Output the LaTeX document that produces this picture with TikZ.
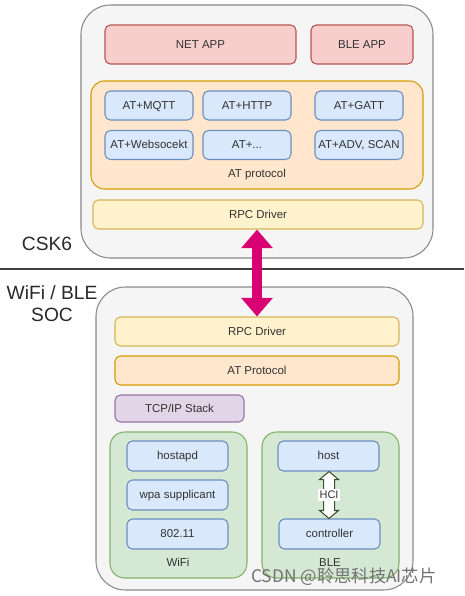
\documentclass[tikz,border=0pt]{standalone}
\usepackage{fontspec}
\setmainfont{Liberation Sans}
\newfontfamily\cjk{Noto Sans CJK SC}
\usetikzlibrary{arrows.meta,calc}
\definecolor{txt}{HTML}{333333}
\definecolor{outerfill}{HTML}{F5F5F5}
\definecolor{outerline}{HTML}{8A8A8A}
\definecolor{redfill}{HTML}{F8CECC}
\definecolor{redline}{HTML}{B85450}
\definecolor{bluefill}{HTML}{DAE8FC}
\definecolor{blueline}{HTML}{6C8EBF}
\definecolor{orfill}{HTML}{FFE6CC}
\definecolor{orline}{HTML}{D79B00}
\definecolor{yelfill}{HTML}{FFF2CC}
\definecolor{yelline}{HTML}{D6B656}
\definecolor{purfill}{HTML}{E1D5E7}
\definecolor{purline}{HTML}{9673A6}
\definecolor{grnfill}{HTML}{D5E8D4}
\definecolor{grnline}{HTML}{82B366}
\definecolor{magenta}{HTML}{D80073}
\tikzset{
  sz/.style 2 args={minimum width=#1*0.75pt, minimum height=#2*0.75pt, inner sep=0pt},
  base/.style={draw, line width=0.8pt, text=txt, font=\fontsize{8.6}{10}\selectfont,
    text height=6.3pt, text depth=0.6pt},
  outerbox/.style={base, fill=outerfill, draw=outerline, rounded corners=22pt},
  redbox/.style={base, fill=redfill, draw=redline, rounded corners=4pt},
  bluebox/.style={base, fill=bluefill, draw=blueline, rounded corners=4pt},
  orbox/.style={base, fill=orfill, draw=orline, rounded corners=4pt},
  orgroup/.style={base, fill=orfill, draw=orline, rounded corners=10pt},
  yelbox/.style={base, fill=yelfill, draw=yelline, rounded corners=4pt},
  purbox/.style={base, fill=purfill, draw=purline, rounded corners=4pt},
  grngroup/.style={base, fill=grnfill, draw=grnline, rounded corners=11pt},
  lbl/.style={text=txt, font=\fontsize{8.6}{10}\selectfont, inner sep=0pt,
    text height=6.3pt, text depth=0.6pt},
  big/.style={text=txt!80!black, font=\fontsize{14.4}{17}\selectfont, inner sep=0pt, align=center},
  hollowarrow/.style={draw=grnline!45!black, fill=white, line width=0.8pt, line join=miter},
}
\begin{document}
\begin{tikzpicture}[x=0.75pt, y=-0.75pt]
\useasboundingbox (0,0) rectangle (464,596);
\fill[white] (0,0) rectangle (464,596);
% top chip
\node[outerbox, sz={352}{253}] (outer1) at (257,131.5) {};
\node[redbox, sz={191}{39}] (net) at (200.5,44.5) {NET APP};
\node[redbox, sz={102}{39}] (bleapp) at (362,44.5) {BLE APP};
\node[orgroup, sz={332}{108}] (atp) at (257,135) {};
\node[bluebox, sz={88}{29}] (mqtt) at (149,105.5) {AT+MQTT};
\node[bluebox, sz={88}{29}] (http) at (247,105.5) {AT+HTTP};
\node[bluebox, sz={88}{29}] (gatt) at (359,105.5) {AT+GATT};
\node[bluebox, sz={88}{29}] (ws) at (149,145) {AT+Websocekt};
\node[bluebox, sz={88}{29}] (atdots) at (247,145) {AT+...};
\node[bluebox, sz={88}{29}] (adv) at (359,145) {AT+ADV, SCAN};
\node[lbl] (atplbl) at (257,174) {AT protocol};
\node[yelbox, sz={330}{29}] (rpc1) at (258,214.5) {RPC Driver};
\node[big] (csk) at (47,244) {CSK6};
% divider
\coordinate (divl) at (0,269);
\coordinate (divr) at (464,269);
\draw[line width=0.9pt, black!75] (divl) -- (divr);
\node[big] (soc) at (52,303.5) {WiFi / BLE\\SOC};
% bottom chip
\node[outerbox, sz={317}{303}] (outer2) at (254.5,438.5) {};
\node[yelbox, sz={284}{29}] (rpc2) at (257,331.5) {RPC Driver};
\node[orbox, fill=orfill!85!orange!60, sz={284}{29}] (atp2) at (257,370.5) {AT Protocol};
\node[purbox, sz={129}{27}] (tcp) at (179.5,408.5) {TCP/IP Stack};
\node[grngroup, sz={137}{146}] (wifig) at (178.5,505) {};
\node[grngroup, sz={137}{146}] (bleg) at (330.5,505) {};
\node[bluebox, sz={101}{30}] (hostapd) at (177.5,456) {hostapd};
\node[bluebox, sz={101}{30}] (wpa) at (177.5,495) {wpa supplicant};
\node[bluebox, sz={101}{30}] (w80211) at (177.5,534) {802.11};
\node[lbl] (wifilbl) at (178,563) {WiFi};
\node[bluebox, sz={101}{30}] (host) at (328.5,456) {host};
\node[bluebox, sz={101}{30}] (ctrl) at (329.5,534) {controller};
\node[lbl] (blelbl) at (330,563) {BLE};
% HCI arrow (hollow double block arrow)
\coordinate (hcitop) at ([xshift=0.4pt]host.south);
\coordinate (hcibot) at (ctrl.north -| hcitop);
\draw[hollowarrow] (hcitop) -- ++(9.5,8) -- ++(-4,0) -- ($(hcibot)+(5.5,-8)$) -- ++(4,0)
  -- (hcibot) -- ++(-9.5,-8) -- ++(4,0) -- ($(hcitop)+(-5.5,8)$) -- ++(-4,0) -- cycle;
\node[lbl, fill=white, inner sep=1pt, font=\fontsize{8.2}{9}\selectfont] (hci) at ($(hcitop)!0.5!(hcibot)$) {HCI};
% RPC link
\draw[magenta, line width=7.5pt, {Triangle[width=23pt,length=14pt]}-{Triangle[width=23pt,length=14pt]}]
  ([xshift=-0.75pt]rpc1.south) -- (rpc2.north);
% watermark
\node[text=black!55, font=\cjk\fontsize{13}{15}\selectfont, inner sep=0pt] (wm) at (344,577) {CSDN @聆思科技AI芯片};
\end{tikzpicture}
\end{document}
